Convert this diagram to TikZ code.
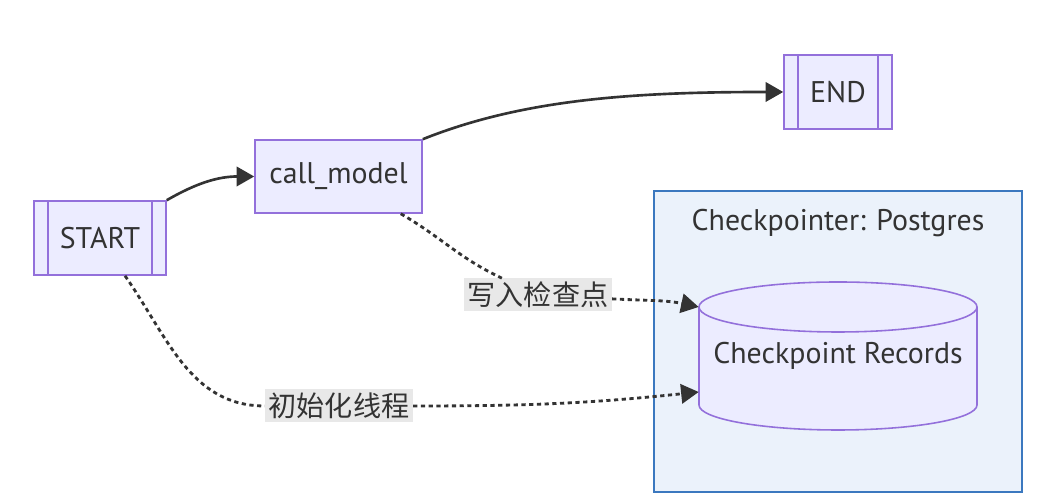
\documentclass[tikz,border=0pt]{standalone}
\usepackage{fontspec}
\setmainfont{PT Sans}
\newfontfamily\cjk{Noto Sans CJK SC}
\usetikzlibrary{arrows.meta,calc}
\definecolor{nodefill}{HTML}{ECECFF}
\definecolor{nodeline}{HTML}{9370DB}
\definecolor{grpfill}{HTML}{EBF2FB}
\definecolor{grpline}{HTML}{3B78BF}
\definecolor{ink}{HTML}{333333}
\definecolor{lblfill}{HTML}{E8E8E8}
\tikzset{
  box/.style={draw=nodeline, fill=nodefill, line width=0.9pt, text=ink, inner sep=0pt},
  flow/.style={draw=ink, line width=1.5pt, -{Triangle[length=10pt,width=11pt]}},
  dots/.style={flow, line width=1.6pt, dash pattern=on 2.4pt off 2pt},
  elabel/.style={fill=lblfill, text=ink, inner xsep=2pt, inner ysep=0pt, minimum height=0.66cm,
    font=\fontsize{16}{19}\selectfont\cjk},
}

\begin{document}
\begin{tikzpicture}[x=0.02cm, y=0.02cm, font=\fontsize{17}{20}\selectfont]
\useasboundingbox (0,0) rectangle (1038,502);

% checkpointer group
\draw[grpline, fill=grpfill, line width=0.9pt] (654,10) rectangle (1022,311);
\node[text=ink] (grp) at (838,279) {Checkpointer: Postgres};

% records cylinder
\filldraw[draw=nodeline, fill=nodefill, line width=0.9pt] (699,195) -- (699,97)
  arc[start angle=180, end angle=360, x radius=139, y radius=25] -- (977,195)
  arc[start angle=0, end angle=180, x radius=139, y radius=25] -- cycle;
\draw[nodeline, line width=0.9pt] (699,195) arc[start angle=180, end angle=360, x radius=139, y radius=25];
\node[text=ink, minimum width=5.56cm, minimum height=2.96cm, inner sep=0pt] (rec) at (838,146) {Checkpoint Records};

% graph nodes
\node[box, minimum width=2.64cm, minimum height=1.48cm] (start) at (100,264) {START};
\node[box, minimum width=3.34cm, minimum height=1.46cm] (call) at (338.5,325.5) {call\_model};
\node[box, minimum width=2.16cm, minimum height=1.48cm] (finish) at (838,410) {END};

\foreach \n in {start,finish} {
\draw[nodeline, line width=0.9pt] ([xshift=0.3cm]\n.north west) -- ([xshift=0.3cm]\n.south west);
\draw[nodeline, line width=0.9pt] ([xshift=-0.3cm]\n.north east) -- ([xshift=-0.3cm]\n.south east);
}

% edge labels
\node[elabel] (write) at (538,207) {写入检查点};
\node[elabel] (init) at (339,96) {初始化线程};

% edges
\draw[flow] (start.north east) to[out=30,in=180] (call.west);
\draw[flow] (call.north east) .. controls +(100,40) and +(-150,0) .. (finish.west);

\draw[dots, -] ($(call.south east)+(-22,0)$) to[out=-30,in=155] (write);
\draw[dots] (write) to[out=-3,in=168] ($(rec.west)+(0,49)$);

\draw[dots, -] ($(start.south)+(25,0)$) to[out=-55,in=180] (init);
\draw[dots] (init) to[out=0,in=186] ($(rec.west)+(0,-36)$);

\end{tikzpicture}
\end{document}
